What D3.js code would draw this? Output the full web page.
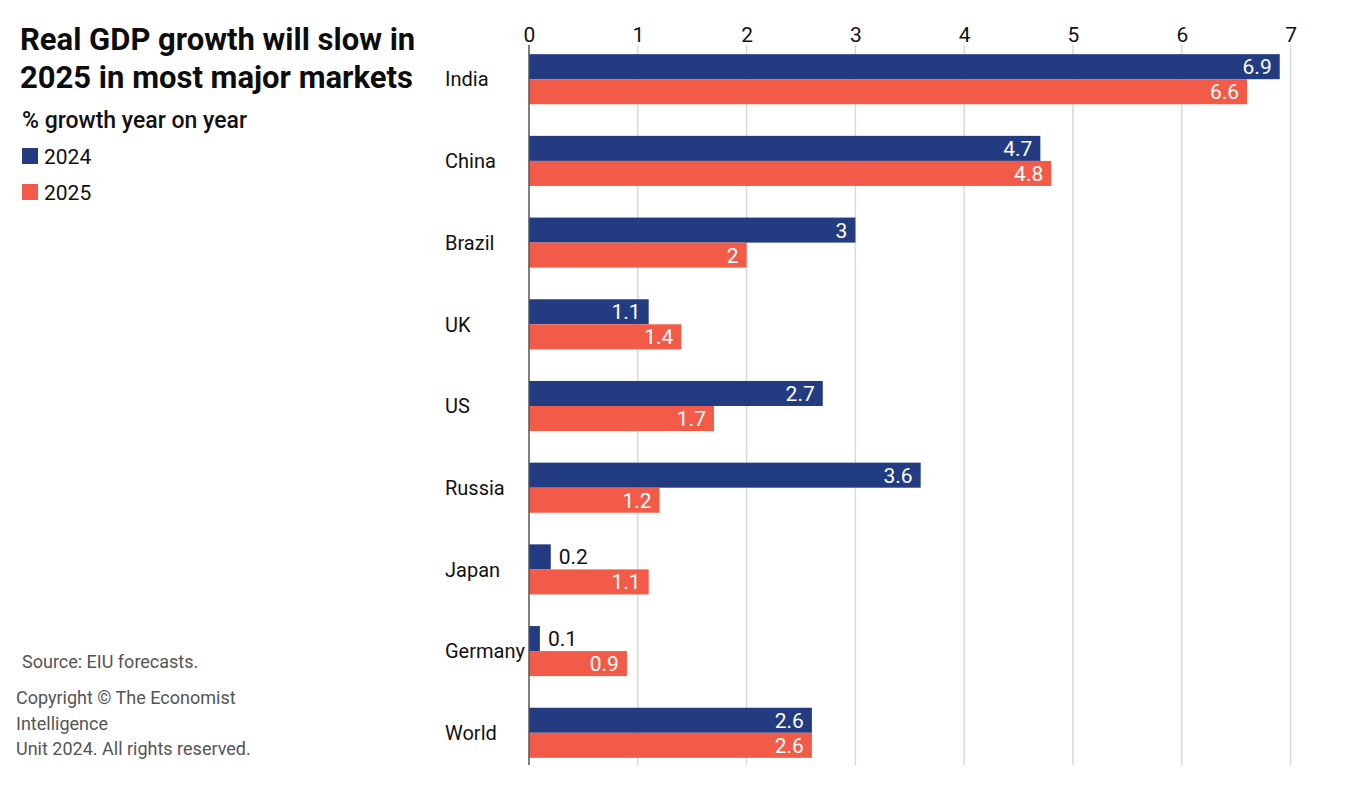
<!DOCTYPE html>
<html lang="en">
  <head>
    <meta charset="UTF-8" />
    <title>Real GDP growth</title>
    <style>
      body {
        margin: 0;
        background-color: #fff;
        font-family: Roboto, "Liberation Sans", sans-serif;
      }
      svg {
        display: block;
      }
    </style>
  </head>
  <body>
    <div class="container"></div>

    <script src="https://d3js.org/d3.v7.min.js"></script>
    <script>
      const countries = ["India", "China", "Brazil", "UK", "US", "Russia", "Japan", "Germany", "World"];
      const years = ["2024", "2025"];
      const growth2024 = [6.9, 4.7, 3, 1.1, 2.7, 3.6, 0.2, 0.1, 2.6];
      const growth2025 = [6.6, 4.8, 2, 1.4, 1.7, 1.2, 1.1, 0.9, 2.6];
      const xTicks = [0, 1, 2, 3, 4, 5, 6, 7];

      const colors = { "2024": "#233b80", "2025": "#f15b47" };

      const w = 1347;
      const h = 791;

      const rows = countries.map((c, i) => ({
        country: c,
        values: [
          { year: "2024", v: growth2024[i] },
          { year: "2025", v: growth2025[i] }
        ]
      }));

      const xScale = d3.scaleLinear().domain([0, 7]).range([529, 1290.6]);

      const yScale = d3.scaleBand()
                       .domain(countries)
                       .range([46, 766])
                       .paddingInner(0.387)
                       .paddingOuter(0.1);

      const yInner = d3.scaleBand()
                       .domain(years)
                       .range([0, yScale.bandwidth()]);

      const svg = d3.select(".container")
                    .append("svg")
                    .attr("width", w)
                    .attr("height", h);

      // gridlines
      svg.append("g")
         .selectAll("line")
         .data(xTicks.slice(1))
         .join("line")
         .attr("x1", d => xScale(d))
         .attr("x2", d => xScale(d))
         .attr("y1", 45)
         .attr("y2", 765)
         .attr("stroke", "#d9d9d9")
         .attr("stroke-width", 1.5);

      // top axis tick labels
      const xAxis = d3.axisTop(xScale).tickValues(xTicks).tickFormat(d3.format("d")).tickSize(0).tickPadding(0);
      const gx = svg.append("g")
                    .attr("transform", "translate(0,42)")
                    .call(xAxis);
      gx.select(".domain").remove();
      gx.selectAll("text")
        .attr("font-family", "Roboto, sans-serif")
        .attr("font-size", 21)
        .attr("fill", "#111");

      // bars
      const groups = svg.append("g")
                        .selectAll("g")
                        .data(rows)
                        .join("g")
                        .attr("transform", d => "translate(0," + yScale(d.country) + ")");

      groups.selectAll("rect")
            .data(d => d.values)
            .join("rect")
            .attr("x", xScale(0))
            .attr("y", d => yInner(d.year))
            .attr("width", d => xScale(d.v) - xScale(0))
            .attr("height", yInner.bandwidth())
            .attr("fill", d => colors[d.year]);

      groups.selectAll("text.val")
            .data(d => d.values)
            .join("text")
            .attr("class", "val")
            .attr("x", d => d.v < 0.5 ? xScale(d.v) + 8 : xScale(d.v) - 8)
            .attr("y", d => yInner(d.year) + yInner.bandwidth() / 2)
            .attr("dy", "0.36em")
            .attr("text-anchor", d => d.v < 0.5 ? "start" : "end")
            .attr("font-size", 21)
            .attr("fill", d => d.v < 0.5 ? "#111" : "#fff")
            .text(d => d.v);

      // category labels
      svg.append("g")
         .selectAll("text")
         .data(countries)
         .join("text")
         .attr("x", 445)
         .attr("y", d => yScale(d) + yScale.bandwidth() / 2)
         .attr("dy", "0.36em")
         .attr("font-size", 20)
         .attr("fill", "#111")
         .text(d => d);

      // zero line
      svg.append("line")
         .attr("x1", xScale(0))
         .attr("x2", xScale(0))
         .attr("y1", 45)
         .attr("y2", 765)
         .attr("stroke", "#555")
         .attr("stroke-width", 1.5);

      // title and legend
      svg.append("text")
         .attr("x", 20)
         .attr("y", 50)
         .attr("font-size", 31)
         .attr("font-weight", 700)
         .attr("fill", "#0d0d0d")
         .text("Real GDP growth will slow in");
      svg.append("text")
         .attr("x", 20)
         .attr("y", 88)
         .attr("font-size", 31)
         .attr("font-weight", 700)
         .attr("fill", "#0d0d0d")
         .text("2025 in most major markets");
      svg.append("text")
         .attr("x", 22)
         .attr("y", 128)
         .attr("font-size", 23)
         .attr("font-weight", 500)
         .attr("fill", "#111")
         .text("% growth year on year");

      const legend = svg.append("g")
                        .selectAll("g")
                        .data(years)
                        .join("g")
                        .attr("transform", (d, i) => "translate(22," + (148 + i * 36) + ")");
      legend.append("rect")
            .attr("width", 16)
            .attr("height", 16)
            .attr("fill", d => colors[d]);
      legend.append("text")
            .attr("x", 22)
            .attr("y", 8)
            .attr("dy", "0.36em")
            .attr("font-size", 21)
            .attr("fill", "#111")
            .text(d => d);

      // footnotes
      svg.append("text")
         .attr("x", 22)
         .attr("y", 668)
         .attr("font-size", 18)
         .attr("fill", "#555")
         .text("Source: EIU forecasts.");
      const copy = ["Copyright © The Economist", "Intelligence", "Unit 2024. All rights reserved."];
      svg.append("g")
         .selectAll("text")
         .data(copy)
         .join("text")
         .attr("x", 16)
         .attr("y", (d, i) => 704 + i * 25.5)
         .attr("font-size", 18)
         .attr("fill", "#555")
         .text(d => d);
    </script>
  </body>
</html>
